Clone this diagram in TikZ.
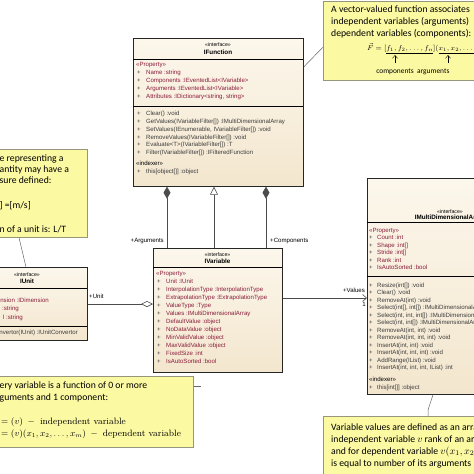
\documentclass[tikz,border=0pt]{standalone}
\usepackage{fontspec}
\newfontfamily\umlfont{Liberation Sans}
\newfontfamily\notefont{Carlito}
\usetikzlibrary{arrows.meta}
\definecolor{umltop}{RGB}{252,247,236}
\definecolor{umlbottom}{RGB}{243,230,206}
\definecolor{propred}{RGB}{138,28,58}
\definecolor{methgray}{RGB}{60,60,60}
\definecolor{noteyellow}{RGB}{252,249,163}
\definecolor{noteline}{RGB}{150,150,125}

\begin{document}
\begin{tikzpicture}[x=1pt,y=-1pt,
  classbox/.style={draw=black!85,line width=0.7pt,top color=umltop,bottom color=umlbottom,inner sep=0pt,anchor=north west},
  notebox/.style={draw=noteline,fill=noteyellow,line width=0.6pt,inner sep=0pt,anchor=north west},
  umltxt/.style={font=\umlfont\fontsize{6.1}{7}\selectfont,inner sep=0pt,text height=4.4pt,text depth=1.1pt},
  stereo/.style={umltxt,font=\umlfont\fontsize{5.2}{6}\selectfont},
  cname/.style={umltxt,font=\umlfont\bfseries\fontsize{6.3}{7}\selectfont},
  prop/.style={umltxt,anchor=west,text=propred},
  meth/.style={umltxt,anchor=west,text=methgray},
  plus/.style={umltxt,text=black!75},
  notetxt/.style={font=\notefont\fontsize{9.7}{11}\selectfont,inner sep=0pt,anchor=west,text height=6.8pt,text depth=2.2pt},
  link/.style={draw=black!70,line width=0.6pt},
  notelink/.style={draw=black!60,line width=0.5pt}]
\fill[white] (0,0) rectangle (474,474);
\useasboundingbox (0,0) rectangle (474,474);

% IFunction
\node[classbox,minimum width=170pt,minimum height=148pt] (ifunction) at (133,38) {};
\draw (133,59) -- (303,59);
\draw (133,106) -- (303,106);
\node[stereo] (fstereo) at (218,45) {«interface»};
\node[cname] (fname) at (218,52.5) {IFunction};
\node[prop] (fprop) at (136,65) {«Property»};
\foreach \m [count=\i from 0] in {Name :string, Components :IEventedList<IVariable>,
    Arguments :IEventedList<IVariable>, {Attributes :IDictionary<string, string>}}
  {\node[plus] (fpb\i) at (139,{73+8*\i}) {+};
   \node[prop] (fp\i) at (146,{73+8*\i}) {\m};}
\foreach \m [count=\i from 0] in {Clear() :void, GetValues(IVariableFilter[]) :IMultiDimensionalArray,
    {SetValues(IEnumerable, IVariableFilter[]) :void}, RemoveValues(IVariableFilter[]) :void,
    Evaluate<T>(IVariableFilter[]) :T, Filter(IVariableFilter[]) :IFilteredFunction}
  {\node[plus] (fmb\i) at (139,{114+7.8*\i}) {+};
   \node[meth] (fm\i) at (146,{114+7.8*\i}) {\m};}
\node[meth,text=black] (fidx) at (136,164) {«indexer»};
\node[plus] (fib) at (139,172) {+};
\node[meth] (fi) at (146,172) {this[object[]] :object};

% IVariable
\node[classbox,minimum width=129pt,minimum height=124pt] (ivariable) at (153,248) {};
\draw (153,267) -- (282,267);
\node[stereo] (vstereo) at (217.5,255) {«interface»};
\node[cname] (vname) at (217.5,261.5) {IVariable};
\node[prop] (vprop) at (156,273.5) {«Property»};
\foreach \m [count=\i from 0] in {Unit :IUnit, InterpolationType :InterpolationType,
    ExtrapolationType :ExtrapolationType, ValueType :Type, Values :IMultiDimensionalArray,
    DefaultValue :object, NoDataValue :object, MinValidValue :object, MaxValidValue :object,
    FixedSize :int, IsAutoSorted :bool}
  {\node[plus] (vpb\i) at (159,{282+8*\i}) {+};
   \node[prop] (vp\i) at (166,{282+8*\i}) {\m};}

% IUnit
\node[classbox,minimum width=120pt,minimum height=73pt] (iunit) at (-33,267) {};
\draw (-33,288) -- (87,288);
\draw (-33,326) -- (87,326);
\node[stereo] (ustereo) at (27,275) {«interface»};
\node[cname] (uname) at (27,282) {IUnit};
\node[prop,anchor=east] (up0) at (49,301) {nsion :IDimension};
\node[prop,anchor=east] (up1) at (19,309) {:string};
\node[prop,anchor=east] (up2) at (23,317.5) {l :string};
\node[meth,anchor=east] (um0) at (78,333) {nvertor(IUnit) :IUnitConvertor};

% IMultiDimensionalArray
\node[classbox,minimum width=170pt,minimum height=216pt] (iarray) at (367,178) {};
\draw (367,222) -- (537,222);
\draw (367,276) -- (537,276);
\node[stereo] (astereo) at (450,211.5) {«interface»};
\node[cname] (aname) at (450,218) {IMultiDimensionalArray};
\node[prop] (aprop) at (369,231) {«Property»};
\foreach \m [count=\i from 0] in {Count :int, Shape :int[], Stride :int[], Rank :int, IsAutoSorted :bool}
  {\node[plus] (apb\i) at (371,{238+7.5*\i}) {+};
   \node[prop] (ap\i) at (377,{238+7.5*\i}) {\m};}
\foreach \m [count=\i from 0] in {Resize(int[]) :void, Clear() :void, RemoveAt(int) :void,
    {Select(int[], int[]) :IMultiDimensionalArray}, {Select(int, int, int[]) :IMultiDimensionalArray},
    {Select(int, int[]) :IMultiDimensionalArray}, {RemoveAt(int, int) :void},
    {RemoveAt(int, int, int) :void}, {InsertAt(int, int) :void}, {InsertAt(int, int, int) :void},
    AddRange(IList) :void, {InsertAt(int, int, int, IList) :int}}
  {\node[plus] (amb\i) at (371,{285.5+7.5*\i}) {+};
   \node[meth] (am\i) at (377,{285.5+7.5*\i}) {\m};}
\node[meth,text=black] (aidx) at (369,380) {«indexer»};
\node[plus] (aib) at (371,387.5) {+};
\node[meth] (ai) at (377,387.5) {this[int[]] :object};

% relations
\coordinate (argx) at (167,0);
\coordinate (genx) at (214,0);
\coordinate (compx) at (266,0);
\coordinate (unity) at (0,304);
\coordinate (valy) at (0,298);
\draw[link,{Diamond[length=12pt,width=7pt]}-] (ifunction.south -| argx) -- (ivariable.north -| argx);
\draw[link,{Diamond[length=12pt,width=7pt]}-] (ifunction.south -| compx) -- (ivariable.north -| compx);
\draw[link,-{Triangle[open,length=8pt,width=8pt]}] (ivariable.north -| genx) -- (ifunction.south -| genx);
\draw[link,{Diamond[open,length=12pt,width=6pt]}-] (ivariable.west |- unity) -- (iunit.east |- unity);
\draw[link,-{Straight Barb[length=4pt,width=7pt]}] (ivariable.east |- valy) -- (iarray.west |- valy);
\node[umltxt,anchor=east] (arglabel) at (164,241) {+Arguments};
\node[umltxt,anchor=west] (complabel) at (270,241) {+Components};
\node[umltxt,anchor=west] (unitlabel) at (89,296.5) {+Unit};
\node[umltxt] (vallabel) at (354,291) {+Values};
\node[umltxt] (valmult) at (364,305) {1};

% notes
\node[notebox,minimum width=107pt,minimum height=88pt] (unitnote) at (-20,149) {};
\node[notetxt] (un0) at (-0.5,159) {e representing a};
\node[notetxt] (un1) at (-0.5,170) {antity may have a};
\node[notetxt] (un2) at (-0.5,181) {sure defined:};
\node[notetxt] (un3) at (-0.5,206) {] =[m/s]};
\node[notetxt] (un4) at (-0.5,230) {n of a unit is: L/T};

\node[notebox,minimum width=180pt,minimum height=79pt] (funcnote) at (323,1) {};
\node[notetxt] (fn0) at (331,10) {A vector-valued function associates};
\node[notetxt] (fn1) at (331,22) {independent variables (arguments)};
\node[notetxt] (fn2) at (331,34) {dependent variables (components):};
\node[notetxt,font=\fontsize{7.2}{9}\selectfont] (fn3) at (367,48)
  {$\vec F = [\underline{f_1, f_2, \ldots, f_n}](\underline{x_1, x_2, \ldots, x_m})$};
\draw[-{Straight Barb[length=3pt,width=5pt]}] (395,63) -- (395,55);
\draw[-{Straight Barb[length=3pt,width=5pt]}] (448,63) -- (448,55);
\node[notetxt,anchor=center,font=\notefont\fontsize{7.4}{9}\selectfont] (fn4) at (395,71) {components};
\node[notetxt,font=\notefont\fontsize{7.4}{9}\selectfont] (fn5) at (417,71) {arguments};

\node[notebox,minimum width=213pt,minimum height=71pt] (varnote) at (-20,376) {};
\node[notetxt] (vn0) at (-0.5,386) {ery variable is a function of 0 or more};
\node[notetxt] (vn1) at (-0.5,398) {guments and 1 component:};
\node[notetxt,font=\fontsize{9.2}{11}\selectfont] (vn2) at (1,422) {$= (v)\; - \textrm{ independent variable}$};
\node[notetxt,font=\fontsize{9.2}{11}\selectfont] (vn3) at (1,434) {$= (v)(x_1, x_2, \ldots, x_m)\; - \textrm{ dependent variable}$};

\node[notebox,minimum width=180pt,minimum height=70pt] (valuenote) at (323,416) {};
\node[notetxt] (wn0) at (331,428) {Variable values are defined as an array};
\node[notetxt] (wn1) at (331,440) {independent variable $v$ rank of an array};
\node[notetxt] (wn2) at (331,452) {and for dependent variable $v(x_1, x_2, \ldots, x_m)$};
\node[notetxt] (wn3) at (331,464) {is equal to number of its arguments};

% note links
\coordinate (ulx) at (19,0);
\coordinate (uux) at (26,0);
\coordinate (vbend) at (428,410);
\coordinate (vax) at (433,0);
\draw[notelink] (unitnote.south -| ulx) -- (iunit.north -| uux);
\draw[notelink] (ifunction.28.4) -- (funcnote.184.8);
\draw[notelink] (iarray.south -| vax) -- (vbend) -- (valuenote.north -| vbend);
\draw[notelink] (varnote.east |- 0,386) -- (201,386);
\end{tikzpicture}
\end{document}
